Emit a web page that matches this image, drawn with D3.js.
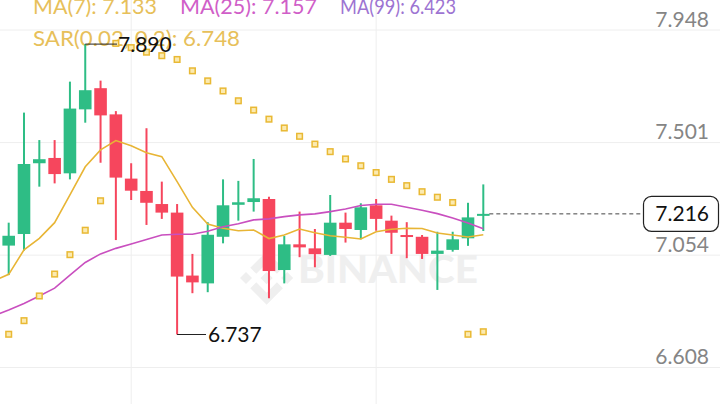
<!DOCTYPE html>
<html><head><meta charset="utf-8">
<script src="https://cdn.jsdelivr.net/npm/d3@7/dist/d3.min.js"></script>
<style>html,body{margin:0;padding:0;background:#fff;overflow:hidden}svg{display:block}</style>
</head><body>
<svg id="c" width="720" height="404"></svg>
<script>
// candle slots (index -1 is the partly hidden candle at the left edge)
const slots = [-1,0,1,2,3,4,5,6,7,8,9,10,11,12,13,14,15,16,17,18,19,20,21,22,23,24,25,26,27,28,29,30,31];
const open  = [6.914,7.090,7.136,7.417,7.438,7.377,7.631,7.715,7.611,7.356,7.307,7.255,7.221,6.971,6.940,7.125,7.252,7.263,7.275,6.993,7.095,7.079,7.053,7.181,7.152,7.250,7.189,7.132,7.125,7.057,7.073,7.119,7.214];
const high  = [7.112,7.181,7.618,7.509,7.509,7.741,7.890,7.745,7.624,7.417,7.556,7.344,7.255,7.057,7.183,7.353,7.347,7.434,7.284,7.128,7.225,7.156,7.291,7.221,7.258,7.275,7.209,7.183,7.132,7.145,7.145,7.260,7.333];
const low   = [6.890,6.973,7.070,7.324,7.337,7.353,7.578,7.419,7.112,7.271,7.172,7.196,6.737,6.901,6.905,7.099,7.189,7.225,6.881,6.940,7.044,7.004,7.049,7.102,7.115,7.149,7.057,7.040,7.037,6.914,7.066,7.089,7.148];
const close = [7.100,7.129,7.414,7.433,7.374,7.634,7.707,7.607,7.360,7.308,7.260,7.221,6.967,6.944,7.133,7.250,7.262,7.278,6.989,7.095,7.083,7.056,7.181,7.156,7.242,7.196,7.141,7.125,7.057,7.070,7.115,7.202,7.216];
const ma7   = [6.950,6.976,7.073,7.119,7.181,7.291,7.403,7.470,7.507,7.486,7.459,7.443,7.344,7.242,7.176,7.159,7.149,7.152,7.118,7.132,7.156,7.141,7.129,7.123,7.116,7.145,7.155,7.159,7.158,7.140,7.132,7.124,7.133];
const ma25  = [6.811,6.834,6.860,6.890,6.921,6.973,7.023,7.057,7.079,7.096,7.114,7.132,7.135,7.135,7.147,7.165,7.177,7.192,7.196,7.205,7.212,7.216,7.225,7.235,7.249,7.254,7.254,7.242,7.230,7.217,7.200,7.180,7.157];
const sar   = [null,6.738,6.792,6.890,6.977,7.054,7.151,7.268,7.893,7.876,7.858,7.844,7.829,7.784,7.744,7.704,7.665,7.628,7.592,7.557,7.524,7.493,7.463,7.434,7.407,7.380,7.353,7.328,7.304,7.282,7.261,6.738,6.748];
const yTicks = [7.948, 7.501, 7.054, 6.608];
const vGridSlots = [8, 24];
const legend = [
  {text:"MA(7): 7.133", color:"#e7c05a"},
  {text:"MA(25): 7.157", color:"#d05ec8"},
  {text:"MA(99): 6.423", color:"#9d74d2"},
  {text:"SAR(0.02, 0.2): 6.748", color:"#e7c05a"}
];
const lastPrice = 7.216, maxPrice = 7.890, minPrice = 6.737;

const W = 720, H = 404;
const FONT = "Lato, 'Open Sans', sans-serif";
const GREEN = "#2ebd85", RED = "#f6465d";
const svg = d3.select("#c");
const x = d3.scaleLinear().domain([0, 31]).range([8.7, 483.3]);
const y = d3.scaleLinear().domain([6.608, 7.948]).range([367, 29.5]);
const data = slots.map((s,i)=>({s, o:open[i], h:high[i], l:low[i], c:close[i], m7:ma7[i], m25:ma25[i], sar:sar[i]}));

// horizontal grid + right axis labels
const axis = d3.axisLeft(y).tickValues(yTicks).tickSize(W).tickFormat(d3.format(".3f"));
const ag = svg.append("g").attr("transform", `translate(${W},0)`).call(axis);
ag.select(".domain").remove();
ag.selectAll(".tick line").attr("stroke", "#eeeeee").attr("stroke-width", 1);
ag.selectAll(".tick text").attr("x", -11).attr("dy", -3.5).attr("text-anchor","end")
  .attr("fill", "#858585").style("font-family", FONT).style("font-size", "21px");

// vertical grid
svg.append("g").selectAll("line").data(vGridSlots).join("line")
  .attr("x1", d=>x(d)).attr("x2", d=>x(d)).attr("y1", 0).attr("y2", H)
  .attr("stroke", "#eeeeee").attr("stroke-width", 1);

// watermark
const wm = svg.append("g").attr("fill", "#efefef");
const logo = wm.append("g").attr("transform", "translate(240,251.5) scale(0.42)");
["M38.73 53.2l24.59-24.58 24.6 24.6 14.3-14.31L63.32 0 24.43 38.89z",
 "M0 63.31l14.3-14.31 14.31 14.31-14.31 14.3z",
 "M38.73 73.41l24.59 24.59 24.6-24.6 14.31 14.29-38.9 38.91-38.91-38.88z",
 "M98 63.31l14.3-14.31 14.31 14.3-14.31 14.32z",
 "M77.83 63.3L63.32 48.78 52.59 59.51l-1.24 1.23-2.54 2.54 14.51 14.5 14.51-14.47z"]
 .forEach(p => logo.append("path").attr("d", p));
wm.append("text").attr("x", 298).attr("y", 282.7).attr("textLength", 180).attr("lengthAdjust","spacingAndGlyphs")
  .style("font-family", FONT).style("font-weight", "900").style("font-size", "37px").text("BINANCE");

// legend (behind everything else)
const lg = svg.append("g").style("font-family", FONT).style("font-size", "21px");
const legPos = [{x:33,y:14,w:124},{x:180,y:14,w:137},{x:340,y:14,w:116},{x:33,y:46,w:207}];
lg.selectAll("text").data(legend).join("text")
  .attr("x", (d,i)=>legPos[i].x).attr("y", (d,i)=>legPos[i].y)
  .attr("textLength", (d,i)=>legPos[i].w).attr("lengthAdjust","spacingAndGlyphs")
  .attr("fill", d=>d.color).text(d=>d.text);

// candles
const cg = svg.append("g");
const bw = 12.6;
cg.selectAll("line.w").data(data).join("line")
  .attr("x1", d=>x(d.s)).attr("x2", d=>x(d.s)).attr("y1", d=>y(d.h)).attr("y2", d=>y(d.l))
  .attr("stroke", d=> d.c >= d.o ? GREEN : RED).attr("stroke-width", 2);
cg.selectAll("rect").data(data).join("rect")
  .attr("x", d=>x(d.s)-bw/2).attr("width", bw)
  .attr("y", d=>y(Math.max(d.o,d.c)))
  .attr("height", d=>Math.max(2, Math.abs(y(d.o)-y(d.c))))
  .attr("fill", d=> d.c >= d.o ? GREEN : RED);

// MA lines
const line = key => d3.line().x(d=>x(d.s)).y(d=>y(d[key]));
svg.append("path").datum(data).attr("d", line("m7")).attr("fill","none").attr("stroke","#e8b535").attr("stroke-width",1.6);
svg.append("path").datum(data).attr("d", line("m25")).attr("fill","none").attr("stroke","#c94fbf").attr("stroke-width",1.6);

// SAR dots
svg.append("g").selectAll("rect").data(data.filter(d=>d.sar!==null)).join("rect")
  .attr("x", d=>x(d.s)-2.8).attr("y", d=>y(d.sar)-2.8).attr("width",5.6).attr("height",5.6)
  .attr("fill","#fbeab0").attr("stroke","#e9b934").attr("stroke-width",1.5);

// high / low markers
const iHigh = high.indexOf(maxPrice), iLow = low.indexOf(minPrice);
const mk = svg.append("g").style("font-family", FONT).style("font-size","21px").attr("fill","#111");
mk.append("line").attr("x1", x(slots[iHigh])).attr("x2", 117).attr("y1", y(maxPrice)).attr("y2", y(maxPrice)).attr("stroke","#222").attr("stroke-width",1);
mk.append("text").attr("x", 118).attr("y", y(maxPrice)).attr("dy","0.36em").text(maxPrice.toFixed(3));
mk.append("line").attr("x1", x(slots[iLow])).attr("x2", 206).attr("y1", y(minPrice)).attr("y2", y(minPrice)).attr("stroke","#222").attr("stroke-width",1);
mk.append("text").attr("x", 208).attr("y", y(minPrice)).attr("dy","0.36em").text(minPrice.toFixed(3));

// last price line and label
const yp = y(lastPrice);
svg.append("line").attr("x1", x(31)+6).attr("x2", 643).attr("y1", yp).attr("y2", yp)
  .attr("stroke","#444").attr("stroke-width",1).attr("stroke-dasharray","4,3");
svg.append("rect").attr("x",643.5).attr("y",yp-17.5).attr("width",75).attr("height",35).attr("rx",8)
  .attr("fill","#fff").attr("stroke","#222").attr("stroke-width",1.2);
svg.append("text").attr("x",709).attr("y",yp).attr("dy","0.36em").attr("text-anchor","end")
  .style("font-family",FONT).style("font-size","21px").attr("fill","#111").text(lastPrice.toFixed(3));
</script>
</body></html>
